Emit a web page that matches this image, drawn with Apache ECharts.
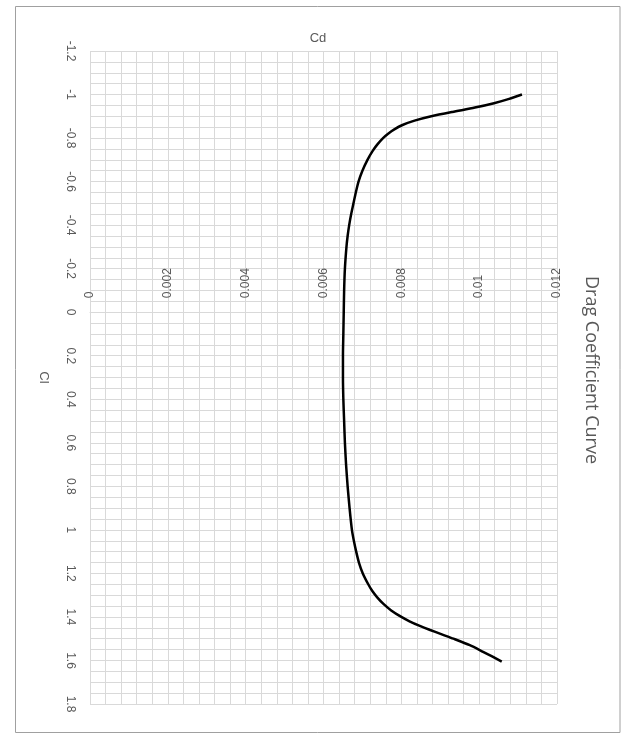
<!DOCTYPE html>
<html>
<head>
<meta charset="utf-8">
<script src="https://cdn.jsdelivr.net/npm/echarts@6/dist/echarts.min.js"></script>
<style>
html,body{margin:0;padding:0;background:#fff;}
#chart{width:624px;height:751px;}
</style>
</head>
<body>
<div id="chart"></div>
<script>
// Lift coefficient (Cl) and drag coefficient (Cd)
var clValues = [-1.0, -0.98, -0.96, -0.94, -0.92, -0.90, -0.88, -0.86, -0.84, -0.82, -0.80, -0.77, -0.74, -0.70, -0.65, -0.60, -0.55, -0.50, -0.45, -0.40, -0.35, -0.30, -0.20, -0.10, 0, 0.1, 0.2, 0.3, 0.4, 0.5, 0.6, 0.7, 0.8, 0.9, 1.0, 1.05, 1.1, 1.15, 1.2, 1.25, 1.28, 1.31, 1.34, 1.37, 1.40, 1.42, 1.44, 1.46, 1.48, 1.50, 1.53, 1.56, 1.58, 1.605];
var cdValues = [0.01110, 0.01077, 0.01038, 0.00989, 0.00931, 0.00877, 0.00834, 0.00803, 0.00782, 0.00766, 0.00753, 0.00738, 0.00726, 0.00713, 0.00700, 0.00690, 0.00683, 0.00677, 0.00671, 0.00666, 0.00662, 0.00659, 0.00655, 0.00653, 0.00652, 0.00651, 0.00650, 0.00650, 0.00651, 0.00653, 0.00655, 0.00658, 0.00662, 0.00667, 0.00673, 0.00678, 0.00684, 0.00691, 0.00701, 0.00715, 0.00725, 0.00738, 0.00754, 0.00774, 0.00800, 0.00821, 0.00846, 0.00874, 0.00904, 0.00934, 0.00976, 0.01010, 0.01032, 0.01058];

var titleText = 'Drag Coefficient Curve';
var cdAxisTitle = 'Cd';
var clAxisTitle = 'Cl';

var seriesData = clValues.map(function (cl, i) { return [cdValues[i], cl]; });

var chart = echarts.init(document.getElementById('chart'), null, {renderer: 'canvas'});
var txt = '#595959';
var gridCol = '#d9d9d9';
chart.setOption({
  animation: false,
  backgroundColor: '#ffffff',
  grid: {left: 90, top: 51, right: 67, bottom: 47, containLabel: false},
  xAxis: {
    type: 'value', min: 0, max: 0.012, interval: 0.002,
    position: 'top', offset: 0,
    axisLine: {show: true, onZero: false, lineStyle: {color: gridCol, width: 1}},
    axisTick: {show: false},
    axisLabel: {rotate: -90, margin: 14, color: txt, fontSize: 12, fontFamily: 'Liberation Sans'},
    splitLine: {show: true, lineStyle: {color: gridCol, width: 1}},
    minorTick: {show: false, splitNumber: 5},
    minorSplitLine: {show: true, lineStyle: {color: gridCol, width: 1}}
  },
  yAxis: {
    type: 'value', min: -1.2, max: 1.8, interval: 0.2, inverse: true,
    position: 'left',
    name: clAxisTitle, nameLocation: 'middle', nameGap: 40, nameRotate: -90,
    nameTextStyle: {color: txt, fontSize: 13, fontFamily: 'Liberation Sans'},
    axisLine: {show: false, onZero: false},
    axisTick: {show: false},
    axisLabel: {rotate: -90, margin: 14, color: txt, fontSize: 12, fontFamily: 'Liberation Sans'},
    splitLine: {show: true, lineStyle: {color: gridCol, width: 1}},
    minorTick: {show: false, splitNumber: 4},
    minorSplitLine: {show: true, lineStyle: {color: gridCol, width: 1}}
  },
  series: [{
    type: 'line',
    data: seriesData,
    smooth: 0.25,
    showSymbol: false,
    symbol: 'none',
    lineStyle: {color: '#000000', width: 2.5},
    z: 5
  }],
  graphic: [
    {type: 'rect', shape: {x: 15.5, y: 6.5, width: 604.5, height: 726}, style: {fill: 'none', stroke: '#a0a0a0', lineWidth: 1}, z: 0, silent: true},
    {type: 'text', x: 318, y: 38, style: {text: cdAxisTitle, fill: txt, font: '13px "Liberation Sans"', textAlign: 'center', textVerticalAlign: 'middle'}},
    {type: 'text', x: 591, y: 370, rotation: -Math.PI / 2, style: {text: titleText, fill: txt, font: '18px "Open Sans"', textAlign: 'center', textVerticalAlign: 'middle'}}
  ]
});
// Place the Cd axis where Cl = 0 (as the axes cross in the original chart)
var yZero = chart.convertToPixel({yAxisIndex: 0}, 0);
var yTop = chart.convertToPixel({yAxisIndex: 0}, -1.2);
chart.setOption({xAxis: {offset: -(yZero - yTop)}});
</script>
</body>
</html>
